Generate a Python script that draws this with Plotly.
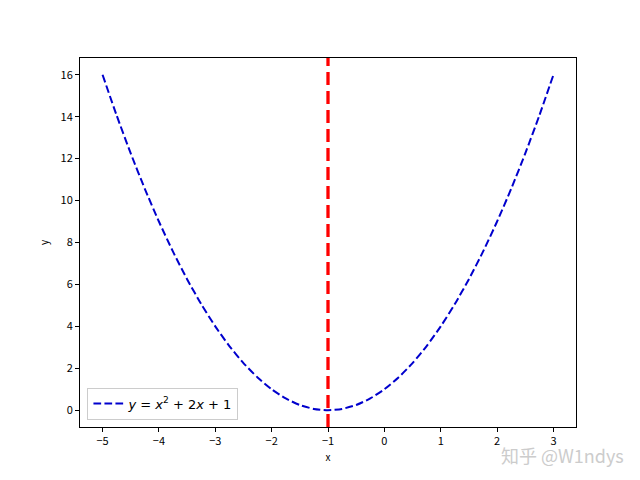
import plotly.graph_objects as go

x_vals = [-5, -4.75, -4.5, -4.25, -4, -3.75, -3.5, -3.25, -3, -2.75, -2.5, -2.25, -2,
          -1.75, -1.5, -1.25, -1, -0.75, -0.5, -0.25, 0, 0.25, 0.5, 0.75, 1, 1.25,
          1.5, 1.75, 2, 2.25, 2.5, 2.75, 3]
y_vals = [16, 14.0625, 12.25, 10.5625, 9, 7.5625, 6.25, 5.0625, 4, 3.0625, 2.25, 1.5625, 1,
          0.5625, 0.25, 0.0625, 0, 0.0625, 0.25, 0.5625, 1, 1.5625, 2.25, 3.0625, 4, 5.0625,
          6.25, 7.5625, 9, 10.5625, 12.25, 14.0625, 16]
vline_x = -1
x_ticks = [-5, -4, -3, -2, -1, 0, 1, 2, 3]
x_ticklabels = ["−5", "−4", "−3", "−2", "−1", "0", "1", "2", "3"]
y_ticks = [0, 2, 4, 6, 8, 10, 12, 14, 16]
legend_label = "<i>y</i> = <i>x</i><sup>2</sup> + 2<i>x</i> + 1"
watermark = "知乎 @W1ndys"

fig = go.Figure()
fig.add_trace(go.Scatter(
    x=x_vals, y=y_vals, mode="lines", name=legend_label,
    line=dict(color="#0000cd", width=2, dash="7.7px,3.3px", shape="spline", smoothing=0.6),
))
fig.add_shape(type="line", xref="x", yref="paper", x0=vline_x, x1=vline_x, y0=0, y1=1,
              line=dict(color="#ff0000", width=3.3, dash="13px,6px"))

axis_common = dict(showline=True, linecolor="black", linewidth=1, mirror=True,
                   ticks="outside", ticklen=4, tickwidth=1, tickcolor="black",
                   showgrid=False, zeroline=False,
                   tickfont=dict(family="Noto Sans CJK SC, DejaVu Sans", size=11, color="black"))
fig.update_xaxes(range=[-5.4, 3.4], tickvals=x_ticks, ticktext=x_ticklabels,
                 title=dict(text="x", font=dict(family="Noto Sans CJK SC, DejaVu Sans", size=10, color="black"), standoff=6),
                 **axis_common)
fig.update_yaxes(range=[-0.8, 16.8], tickvals=y_ticks,
                 title=dict(text="y", font=dict(family="Noto Sans CJK SC, DejaVu Sans", size=10, color="black"), standoff=10),
                 **axis_common)

fig.add_annotation(text=watermark, xref="paper", yref="paper", x=1.10, y=-0.075,
                   xanchor="right", yanchor="middle", showarrow=False,
                   font=dict(family="Noto Sans CJK SC", size=18, color="#cccccc"))

fig.update_layout(
    width=640, height=480,
    margin=dict(l=72, r=72, t=50, b=61),
    paper_bgcolor="white", plot_bgcolor="white",
    showlegend=True,
    legend=dict(x=0.015, y=0.02, xanchor="left", yanchor="bottom",
                bgcolor="rgba(255,255,255,0.8)", bordercolor="#cccccc", borderwidth=1,
                font=dict(family="DejaVu Sans", size=13, color="black")),
)
fig.write_html("out.html")
